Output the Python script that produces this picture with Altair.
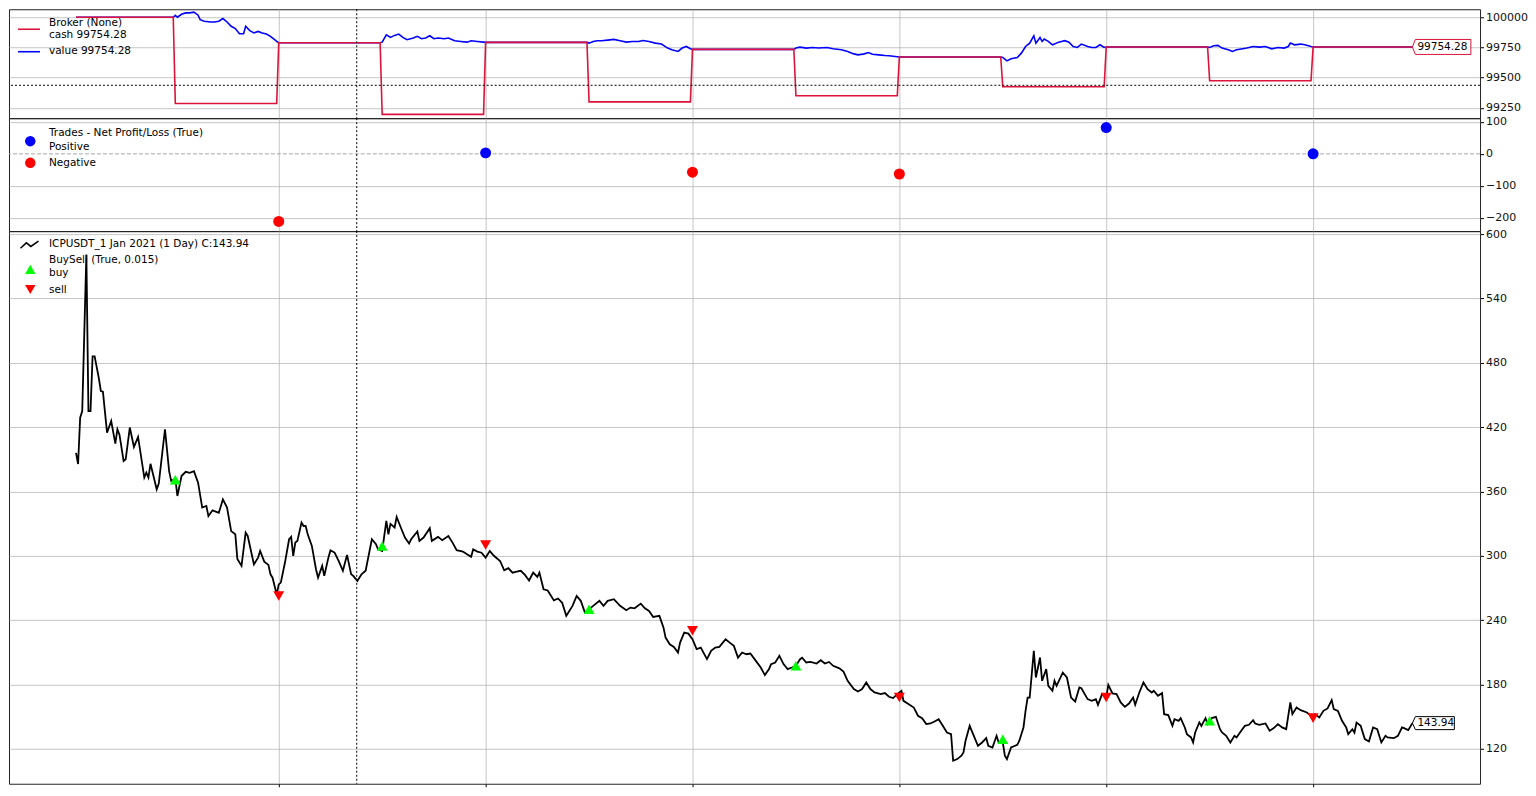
import altair as alt
import pandas as pd

# ------------------------------------------------------------------ data
price_idx = [0, 1, 2, 3, 5, 6, 7, 8, 9, 11, 12, 13, 15, 17, 19, 20, 21, 23, 24, 26, 28, 30, 33, 34, 35, 36, 39, 40, 43, 45,
             46, 48, 49, 51, 53, 55, 57, 59, 61, 63, 64, 66, 69, 71, 73, 75, 77, 78, 80, 82, 83, 86, 88, 89, 91, 93, 94, 95, 97, 98,
             99, 101, 103, 104, 105, 106, 107, 109, 110, 111, 112, 114, 116, 117, 119, 120, 122, 123, 125, 127, 129, 131, 133, 134, 136, 138, 140, 143, 145, 146,
             148, 150, 151, 152, 154, 155, 157, 159, 161, 162, 165, 166, 168, 171, 172, 175, 177, 180, 182, 184, 187, 189, 191, 192, 194, 196, 198, 200, 202, 205,
             207, 209, 211, 213, 215, 217, 219, 221, 223, 224, 226, 228, 231, 233, 235, 237, 240, 242, 244, 246, 248, 250, 253, 255, 257, 260, 263, 266, 268, 270,
             273, 275, 277, 279, 282, 284, 285, 287, 289, 291, 292, 294, 296, 298, 300, 302, 305, 307, 309, 311, 314, 316, 318, 320, 322, 324, 326, 328, 331, 333,
             335, 336, 338, 340, 342, 344, 346, 348, 350, 351, 353, 355, 358, 360, 362, 364, 366, 369, 371, 373, 376, 378, 380, 382, 384, 386, 389, 391, 393, 395,
             397, 399, 400, 402, 405, 407, 409, 411, 413, 415, 417, 419, 421, 423, 424, 426, 428, 429, 430, 432, 434, 436, 438, 440, 441, 443, 445, 446, 448, 449,
             450, 452, 455, 456, 458, 459, 460, 461, 463, 464, 466, 467, 469, 470, 472, 473, 474, 477, 479, 481, 483, 485, 486, 489, 491, 493, 494, 496, 498, 499,
             501, 503, 505, 507, 509, 511, 512, 514, 516, 518, 520, 521, 523, 525, 526, 528, 530, 531, 533, 534, 536, 537, 539, 540, 541, 543, 544, 546, 547, 549,
             551, 553, 554, 556, 558, 560, 561, 563, 565, 567, 569, 570, 572, 575, 577, 579, 581, 583, 585, 587, 588, 590, 592, 595, 597, 599, 601, 603, 605, 607,
             608, 610, 612, 614, 615, 617, 618, 619, 621, 623, 625, 627, 629, 631, 633, 634, 637, 639, 641, 642, 644, 646]
price_val = [396, 385.6, 428.8, 435, 581, 435, 435, 486, 486, 466, 453.7, 453, 414.8, 425.7, 404.6, 418, 413, 388.4, 390, 419.6, 401.5, 410.8, 373, 377.6, 373, 385.8, 362, 367.3, 418, 379,
             369.8, 372, 355.8, 374.4, 378.3, 377.4, 379, 368.2, 345, 346.5, 337, 342.4, 340, 352.6, 345, 323, 320, 297, 290.6, 321.6, 318.5, 292, 298.3, 304.5, 294.6, 291.5, 282.7, 279.6, 264, 273.3,
             275, 293.7, 315.4, 317.6, 300, 312.3, 313.9, 331, 327.8, 327.8, 320, 309.2, 287.5, 279.7, 290.6, 281.3, 298.3, 305, 303, 295, 286, 300.8, 282.7, 281.3, 276.6, 282.7, 286, 315.4, 310.8, 306,
             304.5, 332.5, 320, 329.7, 326.4, 336.2, 326.4, 317, 311.4, 315.4, 322.6, 313.9, 317, 325.7, 313.9, 317.6, 314.5, 318.5, 312.3, 305.2, 303.9, 301.4, 299, 306, 303.9, 302.9, 298.3, 304.5, 300, 295.2,
             286.4, 288.4, 284.3, 285.3, 286, 282.2, 277, 284.3, 280.3, 284.3, 268.8, 267.7, 258.4, 260.2, 256.2, 244, 253.3, 262.6, 258, 247, 250.2, 253.3, 258, 253.3, 258, 259.5, 253.3, 249.3, 251.7, 251,
             255.4, 251, 248.6, 243, 244, 233, 223.7, 217.5, 215, 209.8, 219, 228.4, 227.4, 222.2, 213, 214.4, 203.6, 211.3, 214.4, 215, 222.2, 219, 216, 205, 209.8, 208.2, 208.8, 203.6, 195.8, 188.7,
             194.3, 199, 200.5, 206.7, 199, 194.3, 195.8, 197.4, 203.6, 205, 200.5, 201, 199.5, 202.6, 199.5, 201, 197.4, 195, 192, 183.4, 175.7, 173.4, 175.7, 181.8, 175.7, 172.6, 171, 172, 168.5, 167.3,
             171, 174, 164.7, 162.2, 158.5, 150.8, 148.6, 143, 143.6, 145.4, 147.6, 141.4, 135.2, 133.7, 108.8, 110.4, 113.5, 116.6, 127.5, 141.4, 132.1, 122.8, 125.9, 130, 122.8, 121.2, 132.1, 125.9, 125.9, 113.5,
             110.4, 121.2, 123.7, 127.5, 139.9, 155.4, 167.8, 167.8, 211.3, 186.5, 205.1, 183.4, 194.3, 178.7, 174.1, 183.4, 178.7, 191.1, 186.5, 167.8, 164.1, 177.2, 176.5, 166.3, 164.7, 166.3, 161, 171, 167.8, 179.6,
             171.6, 171, 163.2, 159.1, 162.2, 167.8, 161, 172.5, 181.8, 175.6, 172.5, 174.1, 169.4, 171.9, 152.3, 151.4, 141.4, 147.6, 146.1, 148.6, 139.9, 133.7, 130.6, 125.9, 135.2, 144.5, 141.4, 148.6, 143, 148.6,
             149.8, 138.3, 135.2, 132.1, 125.9, 132.1, 130.6, 136.2, 141.4, 142.4, 146.7, 143.6, 142.4, 143.6, 136.8, 139.3, 143, 139.9, 138.3, 163.2, 152.3, 158.5, 156, 153.9, 150.8, 152.3, 149.2, 155.4, 157.6, 165.4,
             157, 155.4, 146.1, 139.9, 133.7, 138.3, 135.2, 144.5, 141.4, 129, 126.8, 139.9, 138.3, 125.9, 132.1, 130.6, 129.9, 132.1, 139.9, 139.3, 137.4, 143.94]

cash_idx = [0, 47, 48, 97, 98, 147, 148, 197, 198, 247, 248, 297, 298, 347, 348, 397, 398, 447, 448, 497, 498, 547, 548, 597, 598, 646]
cash_val = [100000, 100000, 99286, 99286, 99788.8, 99788.8, 99196, 99196, 99791.9, 99791.9, 99300, 99300, 99734.6,
            99734.6, 99350, 99350, 99671.6, 99671.6, 99425, 99425, 99754.0, 99754.0, 99475, 99475, 99754.28, 99754.28]

value_idx = [0, 47, 48, 49, 51, 53, 55, 57, 59, 60, 62, 65, 67, 69, 71, 73, 75, 77, 79, 81, 82, 84, 86, 88, 90, 92, 94, 96, 97, 98,
             147, 148, 150, 152, 154, 156, 158, 160, 163, 165, 167, 169, 171, 173, 175, 178, 180, 183, 186, 189, 191, 194, 197, 198,
             247, 248, 250, 252, 254, 257, 260, 263, 266, 269, 272, 274, 277, 280, 283, 286, 288, 291, 293, 295, 297, 298,
             347, 348, 350, 353, 356, 359, 363, 366, 370, 373, 376, 378, 381, 383, 385, 388, 391, 393, 396, 398,
             447, 448, 450, 452, 455, 457, 459, 461, 463, 464, 466, 467, 468, 470, 472, 473, 475, 478, 480, 482, 484, 486, 489, 491, 493, 495, 497, 498,
             547, 548, 550, 552, 554, 557, 559, 561, 564, 566, 569, 572, 575, 578, 581, 584, 586, 587, 589, 592, 594, 597, 598, 646]
value_val = [100000, 100000, 100016, 100000, 100025, 100036, 100036, 100042, 100017, 99980, 99967, 99961, 99961, 99967, 99989, 99961, 99925, 99906, 99864, 99864, 99925, 99889, 99870, 99883, 99870, 99861, 99842, 99814, 99800, 99788.8,
             99788.8, 99794, 99855, 99833, 99850, 99861, 99833, 99814, 99828, 99842, 99822, 99828, 99847, 99822, 99828, 99822, 99828, 99806, 99800, 99794, 99806, 99800, 99794, 99791.9,
             99791.9, 99786, 99800, 99806, 99806, 99811, 99817, 99806, 99794, 99800, 99800, 99808, 99800, 99786, 99778, 99745, 99731, 99717, 99745, 99758, 99739, 99734.6,
             99734.6, 99745, 99753, 99745, 99750, 99745, 99750, 99739, 99731, 99717, 99697, 99689, 99697, 99708, 99694, 99689, 99683, 99681, 99675, 99671.6,
             99671.6, 99667, 99639, 99656, 99667, 99703, 99758, 99786, 99847, 99786, 99833, 99800, 99819, 99800, 99772, 99778, 99794, 99806, 99794, 99758, 99750, 99778, 99758, 99750, 99750, 99772, 99750, 99754.0,
             99754.0, 99750, 99764, 99767, 99745, 99731, 99717, 99731, 99739, 99745, 99758, 99753, 99758, 99739, 99750, 99745, 99758, 99786, 99772, 99778, 99772, 99758, 99754.28, 99754.28]

buy_idx = [48, 148, 248, 348, 448, 548]
buy_val = [371, 309.2, 250.2, 197.4, 129, 146.1]
sell_idx = [98, 198, 298, 398, 498, 598]
sell_val = [262.6, 310, 230, 167.8, 167.8, 148.6]

trade_idx = [98, 198, 298, 398, 498, 598]
trade_pnl = [-211.2, 3.1, -57.3, -63.0, 82.4, 0.28]

x_ticks = [98, 198, 298, 398, 498, 598]
broker_ticks = [99250, 99500, 99750, 100000]
pnl_ticks = [-200, -100, 0, 100]
price_ticks = [120, 180, 240, 300, 360, 420, 480, 540, 600]

cursor_idx = 135.7
cursor_broker = 99437
last_idx = 646
last_cash = 99754.28
last_close = 143.94

# ------------------------------------------------------------------ style
FONT = "DejaVu Sans"
GRID = "#b8b8b8"
W = 1472
H1, H2, H3 = 109, 113, 553
XS = alt.Scale(domain=[-32.4, 678.7], nice=False, zero=False)
CRIMSON = "#dc143c"
ONE = pd.DataFrame({"k": [0]})


def xenc(bottom=False):
    return alt.X("i:Q", scale=XS,
                 axis=alt.Axis(values=x_ticks, labels=False, ticks=bottom, tickSize=3,
                               tickColor="#000", grid=True, gridColor=GRID, gridWidth=0.8,
                               domain=False, title=None))


def yenc(domain, values, label_expr, grid_opacity=1):
    return alt.Y("v:Q", scale=alt.Scale(domain=domain, nice=False, zero=False),
                 axis=alt.Axis(orient="right", values=values, grid=True, gridColor=GRID,
                               gridWidth=0.8, gridOpacity=grid_opacity, tickSize=3.5, tickColor="#000",
                               labelColor="#111", labelFont=FONT, labelFontSize=11,
                               labelPadding=2, domain=False, title=None, labelExpr=label_expr))


def label(txt, x, y, size=10.5):
    return alt.Chart(ONE).mark_text(text=txt, align="left", baseline="middle", font=FONT,
                                    fontSize=size, color="#000").encode(
        x=alt.value(x), y=alt.value(y))


def vcursor(bottom=False):
    return alt.Chart(pd.DataFrame({"i": [cursor_idx]})).mark_rule(
        color="#000", strokeWidth=1, strokeDash=[2, 2]).encode(x=xenc(bottom))


# ------------------------------------------------------------------ panel 1: broker
Y1 = yenc([99164.8, 100066.2], broker_ticks, "format(datum.value, 'd')")
value_df = pd.DataFrame({"i": value_idx, "v": value_val})
cash_df = pd.DataFrame({"i": cash_idx, "v": cash_val})
last_cash_df = pd.DataFrame({"i": [last_idx], "v": [last_cash]})

p1 = alt.layer(
    alt.Chart(value_df).mark_line(color="#0000ff", strokeWidth=1.6).encode(x=xenc(), y=Y1),
    alt.Chart(cash_df).mark_line(color=CRIMSON, strokeWidth=1.6).encode(x=xenc(), y=Y1),
    vcursor(),
    alt.Chart(pd.DataFrame({"v": [cursor_broker]})).mark_rule(color="#000", strokeWidth=1, strokeDash=[2, 2]).encode(y=Y1),
    alt.Chart(last_cash_df).mark_point(
        shape="M0,0 L0.3,-0.75 L5.85,-0.75 L5.85,0.75 L0.3,0.75 Z", size=400, filled=True,
        fill="white", stroke=CRIMSON, strokeWidth=1, opacity=1).encode(x=xenc(), y=Y1),
    alt.Chart(last_cash_df).mark_text(align="left", baseline="middle", dx=5, font=FONT,
                                      fontSize=10.5, color="#000").encode(
        x=xenc(), y=Y1, text=alt.Text("v:Q", format=".2f")),
    alt.Chart(ONE).mark_rule(color=CRIMSON, strokeWidth=1.6).encode(
        x=alt.value(9), x2=alt.value(31), y=alt.value(20)),
    alt.Chart(ONE).mark_rule(color="#0000ff", strokeWidth=1.6).encode(
        x=alt.value(9), x2=alt.value(31), y=alt.value(42.5)),
    label("Broker (None)", 40, 13.7),
    label("cash 99754.28", 40, 25.3),
    label("value 99754.28", 40, 42),
).properties(width=W, height=H1)

# ------------------------------------------------------------------ panel 2: trades
Y2 = yenc([-241.6, 111.6], pnl_ticks, "replace(format(datum.value, 'd'), '-', '\u2212')",
          grid_opacity={"condition": {"test": "datum.value === 0", "value": 0}, "value": 1})
trade_df = pd.DataFrame({"i": trade_idx, "v": trade_pnl})
trade_df["sign"] = ["Positive" if p > 0 else "Negative" for p in trade_pnl]

p2 = alt.layer(
    alt.Chart(pd.DataFrame({"v": [0]})).mark_rule(color="#a8a8a8", strokeWidth=1, strokeDash=[4, 2]).encode(y=Y2),
    vcursor(),
    alt.Chart(trade_df).mark_point(shape="circle", filled=True, size=121, opacity=1).encode(
        x=xenc(), y=Y2,
        color=alt.Color("sign:N", scale=alt.Scale(domain=["Positive", "Negative"], range=["#0000ff", "#ff0000"]),
                        legend=None)),
    alt.Chart(ONE).mark_point(shape="circle", filled=True, size=110, color="#0000ff", opacity=1).encode(
        x=alt.value(21.3), y=alt.value(23)),
    alt.Chart(ONE).mark_point(shape="circle", filled=True, size=110, color="#ff0000", opacity=1).encode(
        x=alt.value(21.3), y=alt.value(44.7)),
    label("Trades - Net Profit/Loss (True)", 40, 15.3),
    label("Positive", 40, 28.7),
    label("Negative", 40, 44.7),
).properties(width=W, height=H2)

# ------------------------------------------------------------------ panel 3: price
Y3 = yenc([87.4, 602.8], price_ticks, "format(datum.value, 'd')")
price_df = pd.DataFrame({"i": price_idx, "v": price_val})
buy_df = pd.DataFrame({"i": buy_idx, "v": buy_val})
sell_df = pd.DataFrame({"i": sell_idx, "v": sell_val})
last_close_df = pd.DataFrame({"i": [last_idx], "v": [last_close]})

p3 = alt.layer(
    alt.Chart(price_df).mark_line(color="#000", strokeWidth=1.8).encode(x=xenc(True), y=Y3),
    vcursor(True),
    alt.Chart(buy_df).mark_point(shape="triangle-up", filled=True, size=121, color="#00ff00", opacity=1).encode(
        x=xenc(True), y=Y3),
    alt.Chart(sell_df).mark_point(shape="triangle-down", filled=True, size=121, color="#ff0000", opacity=1).encode(
        x=xenc(True), y=Y3),
    alt.Chart(last_close_df).mark_point(
        shape="M0,0 L0.3,-0.65 L4.2,-0.65 L4.2,0.65 L0.3,0.65 Z", size=400, filled=True,
        fill="white", stroke="#000", strokeWidth=1, opacity=1).encode(x=xenc(True), y=Y3),
    alt.Chart(last_close_df).mark_text(align="left", baseline="middle", dx=5, font=FONT,
                                       fontSize=10.5, color="#000").encode(
        x=xenc(True), y=Y3, text=alt.Text("v:Q", format=".2f")),
    alt.Chart(ONE).mark_point(shape="M-1,0.35 L-0.35,-0.25 L0.15,0.15 L1,-0.45", size=324, filled=False,
                              color="#000", strokeWidth=1.5, opacity=1).encode(
        x=alt.value(20.5), y=alt.value(14)),
    alt.Chart(ONE).mark_point(shape="triangle-up", filled=True, size=110, color="#00ff00", opacity=1).encode(
        x=alt.value(21.3), y=alt.value(38.3)),
    alt.Chart(ONE).mark_point(shape="triangle-down", filled=True, size=110, color="#ff0000", opacity=1).encode(
        x=alt.value(21.3), y=alt.value(58.5)),
    label("ICPUSDT_1 Jan 2021 (1 Day) C:143.94", 40, 13.3),
    label("BuySell (True, 0.015)", 40, 29.3),
    label("buy", 40, 42.3),
    label("sell", 40, 59),
).properties(width=W, height=H3)

chart = alt.vconcat(p1, p2, p3, spacing=0, bounds="flush").properties(
    padding=0, background="white"
).configure_view(stroke="#222", strokeWidth=1)

chart.save("out.html", embed_options={"renderer": "svg", "actions": False})
